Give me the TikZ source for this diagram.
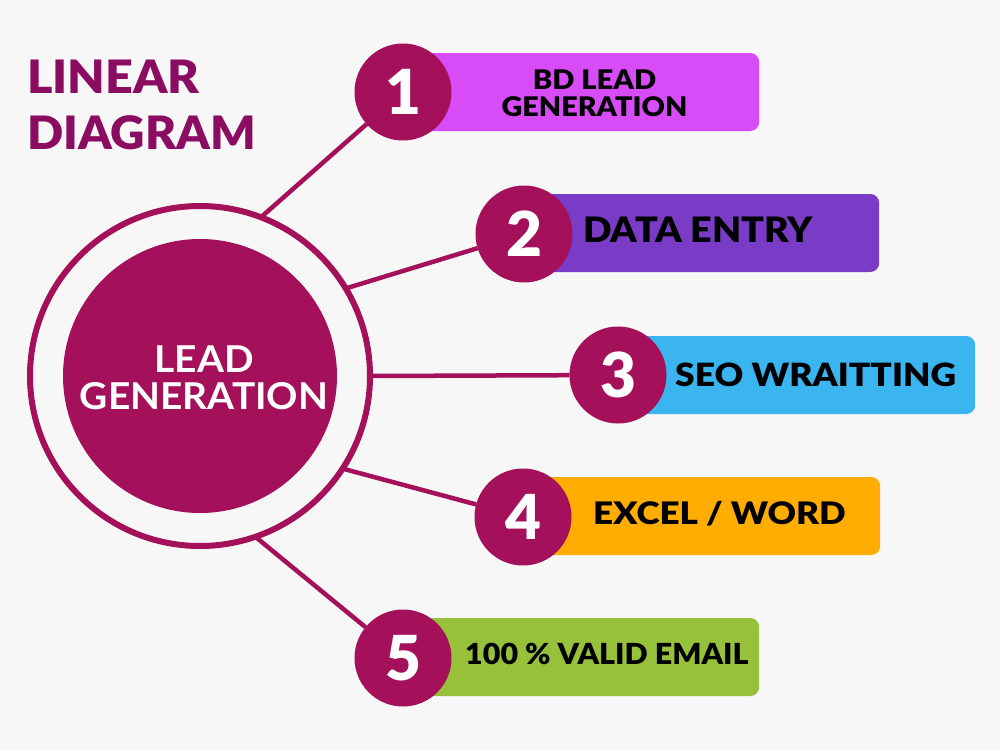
\documentclass[tikz,border=0pt]{standalone}
\usepackage{fontspec}
\setmainfont{Lato}
\newfontfamily\heavy{Lato Black}
\definecolor{mag}{HTML}{A4105A}
\definecolor{ttl}{HTML}{8B0D62}
\definecolor{bg}{HTML}{F7F7F7}
\definecolor{barA}{HTML}{D74CF7}
\definecolor{barB}{HTML}{7A3CC7}
\definecolor{barC}{HTML}{3AB5F0}
\definecolor{barD}{HTML}{FFAD00}
\definecolor{barE}{HTML}{98C13B}
\newcommand{\wide}[2]{\scalebox{#1}[1]{#2}}
\tikzset{
  numc/.style={circle, fill=mag, minimum size=97pt, inner sep=0pt, outer sep=0pt, text=white, font=\heavy\fontsize{62}{62}\selectfont},
  bar/.style={rounded corners=9pt, minimum height=78pt, inner sep=0pt, anchor=west},
  lbl/.style={inner sep=0pt, text=black},
  link/.style={draw=mag, line width=4.5pt},
  ttltext/.style={anchor=base west, inner sep=0pt, text=ttl, font=\heavy\fontsize{46}{46}\selectfont},
  coretext/.style={anchor=base, inner sep=0pt, text=white, font=\bfseries\fontsize{37}{37}\selectfont},
}
\begin{document}
\begin{tikzpicture}[x=1pt,y=-1pt]
\fill[bg] (0,0) rectangle (1000,750);
\useasboundingbox (0,0) rectangle (1000,750);
% title
\node[ttltext] (t1) at (27,93) {\wide{1.055}{LINEAR}};
\node[ttltext] (t2) at (27,149) {\wide{1.035}{DIAGRAM}};
% central circle
\node[circle, draw=mag, line width=6pt, minimum size=340pt, inner sep=0pt, outer sep=0pt] (ring) at (200,376) {};
\node[circle, fill=mag, minimum size=274pt, inner sep=0pt] (core) at (200,376) {};
\node[coretext] (c1) at (204,372) {\wide{1.05}{LEAD}};
\node[coretext] (c2) at (204,409) {\wide{1.05}{GENERATION}};
% bars
\node[bar, fill=barA, minimum width=356pt] (b1) at (403,92) {};
\node[bar, fill=barB, minimum width=355pt] (b2) at (524,233) {};
\node[bar, fill=barC, minimum width=357pt] (b3) at (618,375) {};
\node[bar, fill=barD, minimum width=357pt] (b4) at (523,516) {};
\node[bar, fill=barE, minimum width=356pt] (b5) at (403,657) {};
% number circles
\node[numc] (n1) at (403,92) {1};
\node[numc] (n2) at (524,234) {2};
\node[numc] (n3) at (618,375) {3};
\node[numc] (n4) at (523,517) {4};
\node[numc] (n5) at (403,658) {5};
% links
\draw[link] (ring.69) -- (n1);
\draw[link] (ring.31) -- (n2);
\draw[link] (ring.0) -- (n3);
\draw[link] (ring.-33) -- (n4);
\draw[link] (ring.-71) -- (n5);
% labels
\node[lbl, anchor=base, font=\heavy\fontsize{27}{27}\selectfont] (l1a) at (594.5,89) {\wide{1.08}{BD LEAD}};
\node[lbl, anchor=base, font=\heavy\fontsize{27}{27}\selectfont] (l1b) at (594.5,116) {\wide{1.065}{GENERATION}};
\node[lbl, anchor=base west, font=\heavy\fontsize{35}{35}\selectfont] (l2) at (583,242) {\wide{1.075}{DATA ENTRY}};
\node[lbl, anchor=base west, font=\heavy\fontsize{32}{32}\selectfont] (l3) at (675,386) {\wide{1.107}{SEO WRAITTING}};
\node[lbl, anchor=base west, font=\heavy\fontsize{31}{31}\selectfont] (l4) at (593,524) {\wide{1.13}{EXCEL / WORD}};
\node[lbl, anchor=base west, font=\heavy\fontsize{29}{29}\selectfont] (l5) at (465,664) {\wide{1.05}{100 \% VALID EMAIL}};
\end{tikzpicture}
\end{document}
